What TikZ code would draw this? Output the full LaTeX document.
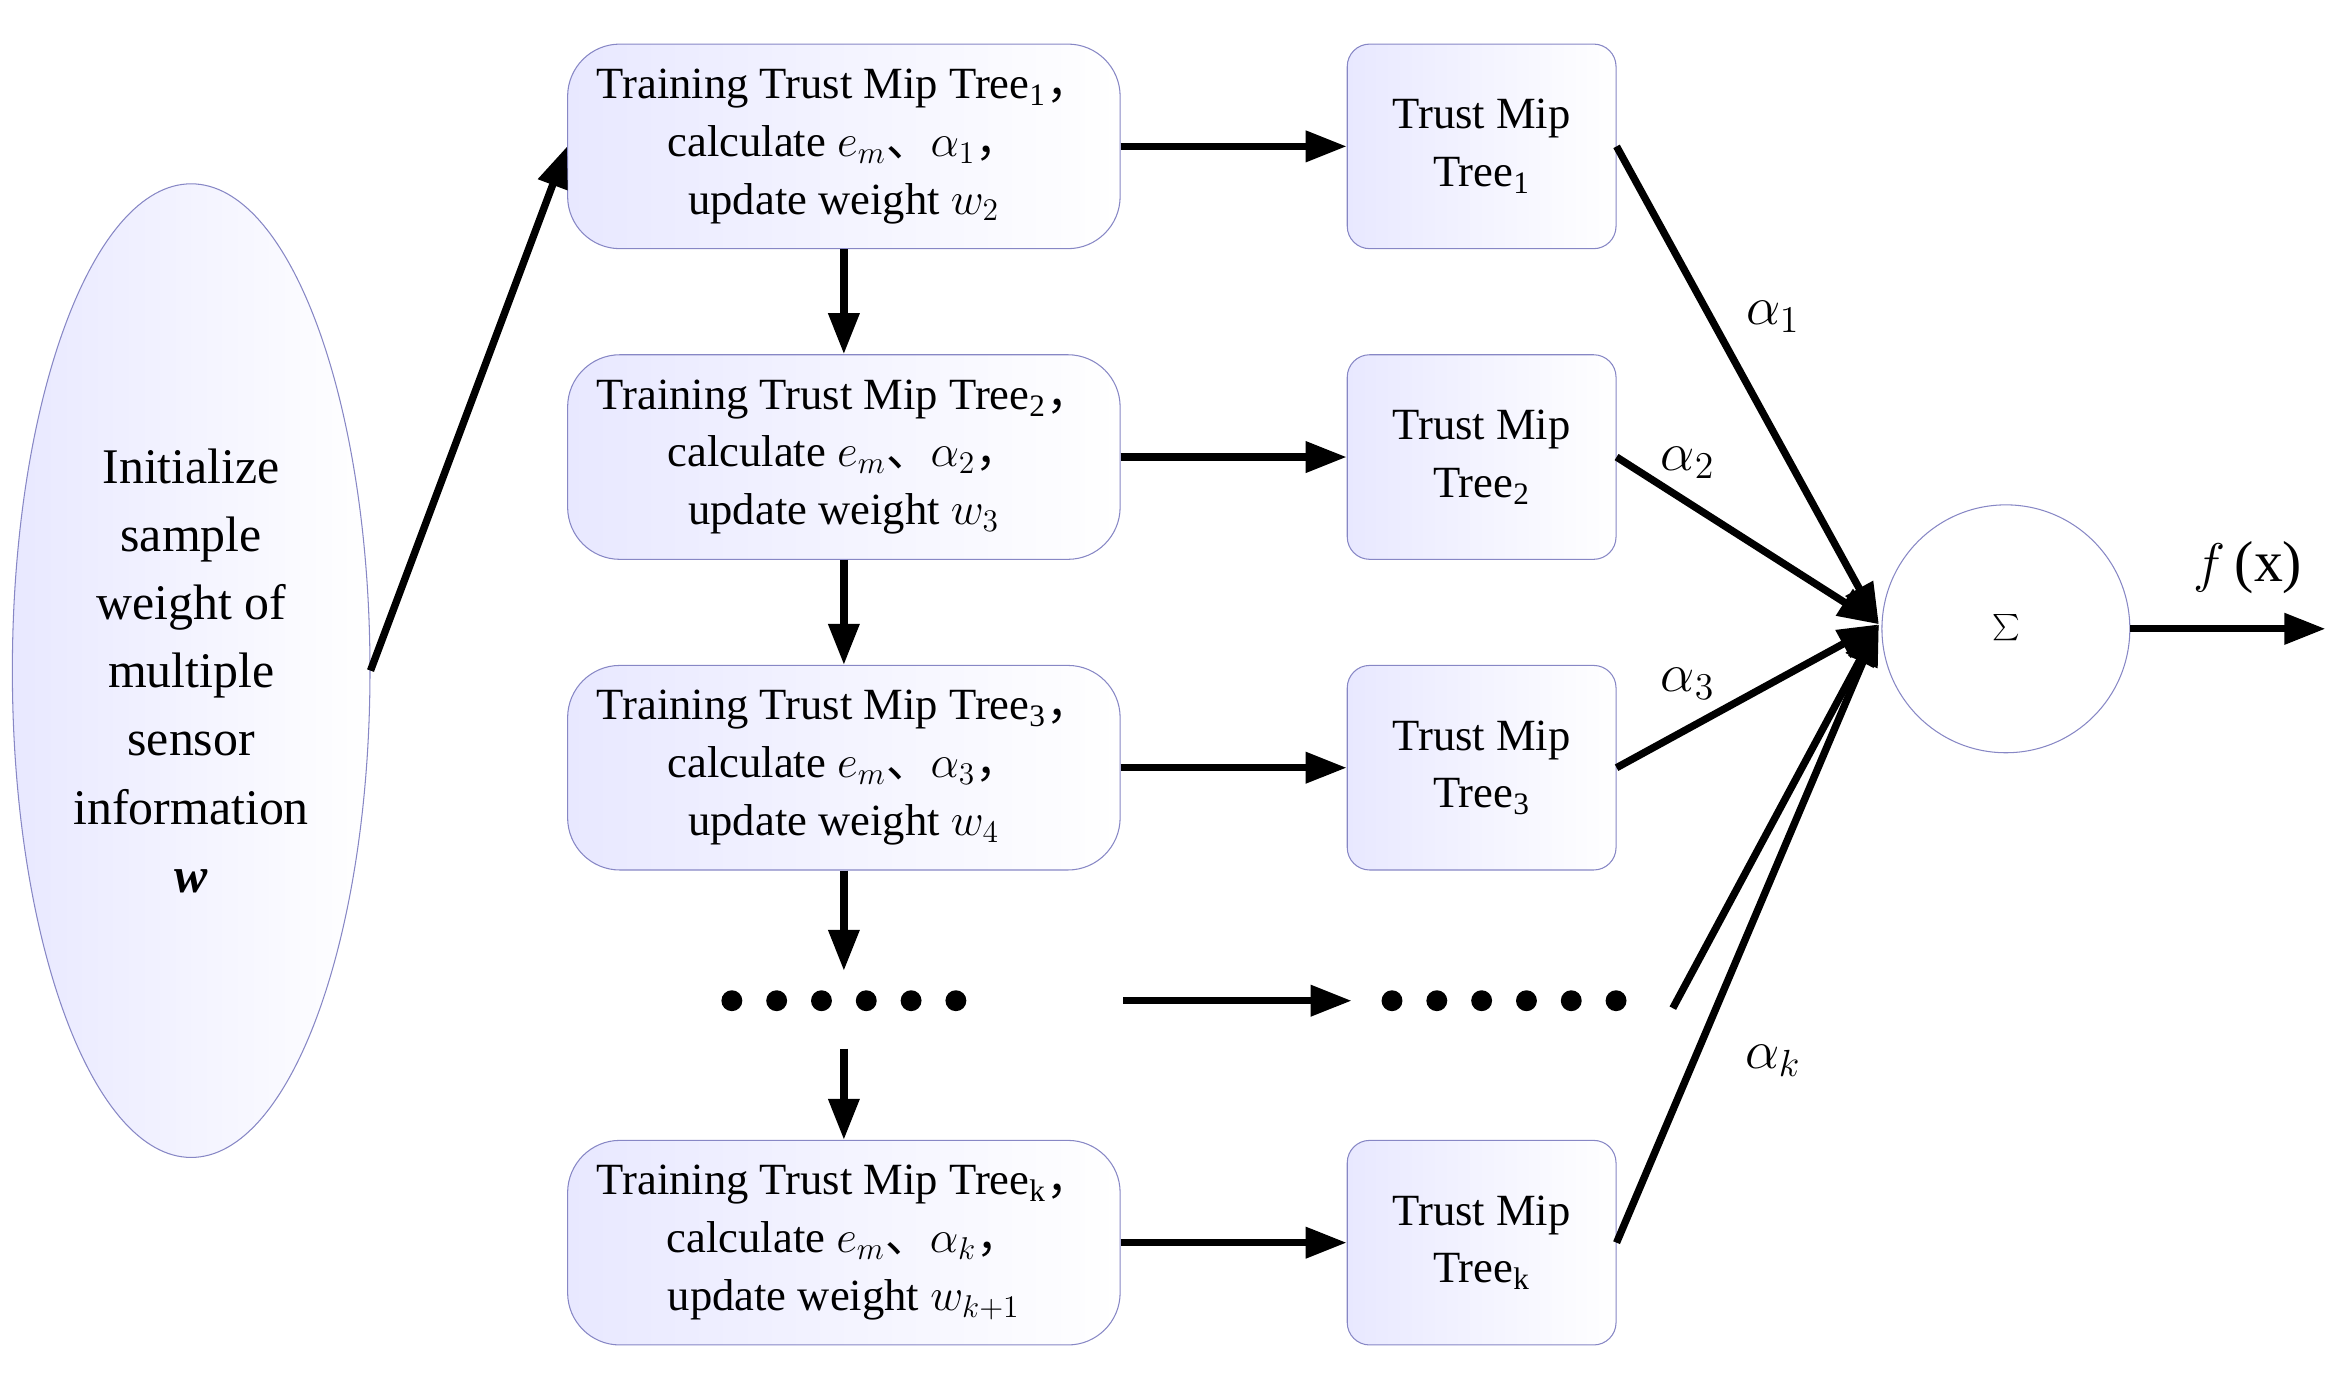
\documentclass[tikz,border=0pt]{standalone}
\usepackage{fontspec}
\setmainfont{Liberation Serif}
\newfontfamily\cjk{Noto Sans CJK SC}
\newcommand{\cm}{{\cjk ，}}
\newcommand{\dn}{{\cjk 、}}
\usetikzlibrary{arrows.meta,shapes.geometric}
\begin{document}
\begin{tikzpicture}[x=0.02cm,y=-0.02cm,
 lbox/.style={draw=blue!35!gray!70,rounded corners=0.7cm,left color=blue!9,right color=white,minimum width=7.4cm,minimum height=2.74cm,align=center,font=\fontsize{17}{22}\selectfont},
 rbox/.style={draw=blue!35!gray!70,rounded corners=0.3cm,left color=blue!9,right color=white,minimum width=3.6cm,minimum height=2.74cm,align=center,font=\fontsize{17}{22}\selectfont},
 arr/.style={line width=2.8pt,-{Triangle[length=0.55cm,width=0.4cm]}},
 lab/.style={font=\fontsize{22}{24}\selectfont}]
\useasboundingbox (0,0) rectangle (1560,930);
\node[draw=blue!35!gray!70,ellipse,left color=blue!9,right color=white,minimum width=4cm,minimum height=13.04cm,align=center,font=\fontsize{19}{26}\selectfont] (init) at (128,449) {Initialize\\sample\\weight of\\multiple\\sensor\\information\\\textbf{\textit{w}}};
\node[lbox] (t1) at (565,98) {Training Trust Mip Tree\textsubscript{1}\cm\\calculate $e_m$\dn$\alpha_1$\cm\\update weight $w_2$};
\node[lbox] (t2) at (565,306) {Training Trust Mip Tree\textsubscript{2}\cm\\calculate $e_m$\dn$\alpha_2$\cm\\update weight $w_3$};
\node[lbox] (t3) at (565,514) {Training Trust Mip Tree\textsubscript{3}\cm\\calculate $e_m$\dn$\alpha_3$\cm\\update weight $w_4$};
\node[lbox] (tk) at (565,832) {Training Trust Mip Tree\textsubscript{k}\cm\\calculate $e_m$\dn$\alpha_k$\cm\\update weight $w_{k+1}$};
\node[rbox] (r1) at (992,98) {Trust Mip\\Tree\textsubscript{1}};
\node[rbox] (r2) at (992,306) {Trust Mip\\Tree\textsubscript{2}};
\node[rbox] (r3) at (992,514) {Trust Mip\\Tree\textsubscript{3}};
\node[rbox] (rk) at (992,832) {Trust Mip\\Tree\textsubscript{k}};
\node[draw=blue!35!gray!70,circle,minimum size=3.32cm,font=\fontsize{40}{40}\selectfont,inner sep=0pt] (sum) at (1343,421) {$\sum$};
\foreach \i in {0,...,5}{\fill (490+\i*30,670) circle (0.14cm); \fill (932+\i*30,670) circle (0.14cm);}
\coordinate (dl) at (565,650);
\coordinate (dl2) at (565,702);
\coordinate (da) at (752,670);
\coordinate (db) at (905,670);
\coordinate (dr) at (1120,675);
\coordinate (out) at (1557,421);
\draw[arr] (init.east) -- (t1.west);
\draw[arr] (t1) -- (t2);
\draw[arr] (t2) -- (t3);
\draw[arr] (t3.south) -- (dl);
\draw[arr] (dl2) -- (tk.north);
\draw[arr] (t1) -- (r1);
\draw[arr] (t2) -- (r2);
\draw[arr] (t3) -- (r3);
\draw[arr] (tk) -- (rk);
\draw[arr] (da) -- (db);
\coordinate (tip) at (1258,418);
\draw[arr] (r1.east) -- (tip);
\draw[arr] (r2.east) -- (tip);
\draw[arr] (r3.east) -- (tip);
\draw[arr] (dr) -- (tip);
\draw[arr] (rk.east) -- (tip);
\draw[arr] (sum.east) -- (out);
\node[lab] at (1187,212) {$\alpha_1$};
\node[lab] at (1130,310) {$\alpha_2$};
\node[lab] at (1130,458) {$\alpha_3$};
\node[lab] at (1187,710) {$\alpha_k$};
\node[lab] at (1505,380) {$f\,$(x)};
\end{tikzpicture}
\end{document}
